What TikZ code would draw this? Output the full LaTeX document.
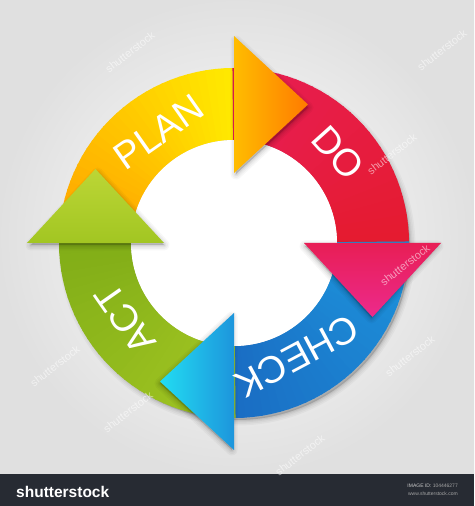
\documentclass[tikz,border=0pt]{standalone}
\usepackage{fontspec}
\setmainfont{Liberation Sans}
\definecolor{planA}{HTML}{FFE800}
\definecolor{planB}{HTML}{FFA000}
\definecolor{planH}{HTML}{FF7A00}
\definecolor{doA}{HTML}{E51B30}
\definecolor{doB}{HTML}{E81E55}
\definecolor{doH}{HTML}{EC2A8C}
\definecolor{chkA}{HTML}{1A6EC4}
\definecolor{chkB}{HTML}{1D95DC}
\definecolor{chkH}{HTML}{22DDF2}
\definecolor{actA}{HTML}{82AE18}
\definecolor{actB}{HTML}{A2C622}
\definecolor{actH}{HTML}{BCD636}
\definecolor{barcol}{HTML}{272B33}
\newcommand{\ringband}[3]{%
  \foreach \i in {0,...,29}{%
    \pgfmathsetmacro{\aa}{#1-3*\i+0.5}%
    \pgfmathsetmacro{\bb}{#1-3*\i-3}%
    \pgfmathtruncatemacro{\pp}{100-100*\i/29}%
    \fill[#3!\pp!#2] (\aa:103) arc[start angle=\aa, end angle=\bb, radius=103pt]
      -- (\bb:175) arc[start angle=\bb, end angle=\aa, radius=175pt] -- cycle;
  }}
\newcommand{\softshade}[3]{% xshift, yshift, path
  \foreach \w/\o in {11/0.03,8/0.035,5/0.045,2.5/0.055}{%
    \path[draw=black, fill=black, draw opacity=\o, fill opacity=\o, line width=\w pt, line join=round,
      xshift=#1, yshift=#2] #3;
  }}
\begin{document}
\begin{tikzpicture}[x=1pt,y=1pt,
  lbl/.style={white, font=\fontsize{38}{38}\selectfont, inner sep=0pt},
  wm/.style={white, opacity=0.55, font=\fontsize{11}{11}\selectfont, rotate=38, inner sep=0pt}]
\useasboundingbox (0,0) rectangle (474,506);
% background
\shade[inner color=white, outer color=black!12] (0,32) rectangle (474,506);
% bottom bar
\fill[barcol] (0,0) rectangle (474,32);
\node[white, font=\bfseries\fontsize{15.5}{15.5}\selectfont, anchor=west, inner sep=0pt] (logo) at (16,14) {shutterstock};
\node[black!35, font=\fontsize{5}{5}\selectfont, anchor=east, inner sep=0pt] (imgid) at (458,20) {\textcolor{black!20}{IMAGE ID:} 104446277};
\node[black!35, font=\fontsize{5}{5}\selectfont, anchor=east, inner sep=0pt] (www) at (458,12) {www.shutterstock.com};
\begin{scope}[shift={(234,263)}]
  % ring soft shadow
  \softshade{3pt}{-4pt}{(0,0) circle[radius=173pt]}
  % bands
  \ringband{180}{planA}{planB}
  \ringband{90}{doA}{doB}
  \ringband{0}{chkA}{chkB}
  \ringband{-90}{actA}{actB}
  % inner hole
  \fill[white] (0,0) circle[radius=103pt];
  % head shadows
  \softshade{2pt}{-3pt}{(0,72) -- (0,205) -- (72,138.5) -- cycle}
  \softshade{-1pt}{-3pt}{(72,0) -- (205,0) -- (138.5,-72) -- cycle}
  \softshade{-2pt}{-2pt}{(0,-72) -- (0,-205) -- (-72,-138.5) -- cycle}
  \softshade{2pt}{-2pt}{(-72,0) -- (-205,0) -- (-138.5,72) -- cycle}
  % heads
  \path[left color=planB!70!yellow, right color=planH] (0,70) -- (0,207) -- (74,138.5) -- cycle;
  \path[top color=doB, bottom color=doH] (70,0) -- (207,0) -- (138.5,-74) -- cycle;
  \path[right color=chkB, left color=chkH] (0,-70) -- (0,-207) -- (-74,-138.5) -- cycle;
  \path[bottom color=actB, top color=actH] (-70,0) -- (-207,0) -- (-138.5,74) -- cycle;
  % labels
  \node[lbl, rotate=35] (plan) at (124:134) {PLAN};
  \node[lbl, rotate=-48] (do) at (41:138) {DO};
  \node[lbl, rotate=-152] (check) at (-61:130) {CHECK};
  \node[lbl, rotate=125] (act) at (215:133) {ACT};
\end{scope}
% watermarks
\node[wm] (w1) at (130,454) {shutterstock};
\node[wm] (w2) at (442,456) {shutterstock};
\node[wm] (w3) at (392,352) {shutterstock};
\node[wm] (w4) at (405,241) {shutterstock};
\node[wm] (w5) at (410,150) {shutterstock};
\node[wm] (w6) at (55,140) {shutterstock};
\node[wm] (w7) at (128,94) {shutterstock};
\node[wm] (w8) at (300,51) {shutterstock};
\end{tikzpicture}
\end{document}
